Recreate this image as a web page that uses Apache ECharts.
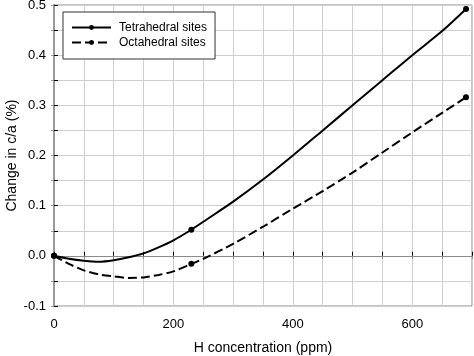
<!DOCTYPE html>
<html>
<head>
<meta charset="utf-8">
<script src="https://cdn.jsdelivr.net/npm/echarts@6/dist/echarts.min.js"></script>
<style>html,body{margin:0;padding:0;background:#fff;}#c{width:474px;height:356px;}</style>
</head>
<body>
<div id="c"></div>
<script>
var hConc = [0, 25, 50, 75, 100, 125, 150, 175, 200, 230, 250, 300, 350, 400, 450, 500, 550, 600, 650, 690];
var tetrahedral = [0, -0.006, -0.010, -0.012, -0.009, -0.003, 0.005, 0.017, 0.031, 0.052, 0.068, 0.108, 0.152, 0.200, 0.250, 0.300, 0.350, 0.400, 0.448, 0.492];
var octahedral = [0, -0.016, -0.029, -0.037, -0.041, -0.044, -0.043, -0.038, -0.031, -0.016, -0.006, 0.024, 0.058, 0.094, 0.129, 0.166, 0.206, 0.246, 0.285, 0.316];
var markerConc = [0, 230, 690];
var xTickLabels = ['0', '200', '400', '600'];
var yTickLabels = ['-0.1', '0.0', '0.1', '0.2', '0.3', '0.4', '0.5'];
var seriesNames = ['Tetrahedral sites', 'Octahedral sites'];

function pairs(ys) { return hConc.map(function (x, i) { return [x, ys[i]]; }); }
function symSize(v) { return markerConc.indexOf(v[0]) >= 0 ? 6 : 0; }

var FONT = 'Liberation Sans, Arial, sans-serif';
var chart = echarts.init(document.getElementById('c'), null, { renderer: 'canvas' });
chart.setOption({
  animation: false,
  backgroundColor: '#fff',
  grid: { left: 54, right: 2, top: 5, bottom: 50, containLabel: false, outerBoundsMode: 'none',
    show: true, borderColor: '#8a8a8a', borderWidth: 1 },
  legend: {
    left: 63, top: 12, orient: 'vertical',
    padding: [9, 8, 10, 8], itemWidth: 39, itemHeight: 6, itemGap: 2,
    borderColor: '#333', borderWidth: 1, backgroundColor: '#fff',
    textStyle: { fontFamily: FONT, fontSize: 12, color: '#000', padding: [0, 0, 0, 3], lineHeight: 13 },
    data: seriesNames
  },
  xAxis: [{
    type: 'value', min: 0, max: 700, interval: 50,
    name: 'H concentration (ppm)', nameLocation: 'middle', nameGap: 35,
    nameTextStyle: { fontFamily: FONT, fontSize: 14, color: '#000' },
    axisLine: { lineStyle: { color: '#000', width: 1 } },
    axisTick: { inside: true, length: 4, lineStyle: { color: '#000' } },
    axisLabel: { fontFamily: FONT, fontSize: 13, color: '#000', margin: 12,
      formatter: function (v) { var s = String(v); return xTickLabels.indexOf(s) >= 0 ? s : ''; } },
    splitLine: { show: true, lineStyle: { color: '#cfcfcf', width: 1 } }
  }, {
    type: 'value', position: 'top', min: 0, max: 700, interval: 50,
    axisLine: { show: true, lineStyle: { color: '#8a8a8a', width: 1 } },
    axisTick: { inside: true, length: 3, lineStyle: { color: '#8a8a8a' } },
    axisLabel: { show: false }, splitLine: { show: false }
  }],
  yAxis: [{
    type: 'value', min: -0.1, max: 0.5, interval: 0.05,
    name: 'Change in c/a (%)', nameLocation: 'middle', nameGap: 35, nameMoveOverlap: false,
    nameTextStyle: { fontFamily: FONT, fontSize: 14, color: '#000' },
    axisLine: { show: true, lineStyle: { color: '#000', width: 1 } },
    axisTick: { show: true, inside: true, length: 4, lineStyle: { color: '#000' } },
    axisLabel: { fontFamily: FONT, fontSize: 13, color: '#000', margin: 8,
      formatter: function (v) { var s = (Math.round(v * 100) / 100).toFixed(1); return (Math.abs(v * 10 - Math.round(v * 10)) < 1e-6 && yTickLabels.indexOf(s) >= 0) ? s : ''; } },
    splitLine: { show: true, lineStyle: { color: '#cfcfcf', width: 1 } }
  }, {
    type: 'value', position: 'right', min: -0.1, max: 0.5, interval: 0.05,
    axisLine: { show: true, lineStyle: { color: '#9a9a9a', width: 2 } },
    axisTick: { show: true, inside: true, length: 3, lineStyle: { color: '#9a9a9a' } },
    axisLabel: { show: false }, splitLine: { show: false }
  }],
  series: [{
    name: seriesNames[0], type: 'line', data: pairs(tetrahedral),
    smooth: 0.3, symbol: 'circle', symbolSize: symSize,
    itemStyle: { color: '#000' }, lineStyle: { color: '#000', width: 2 }
  }, {
    name: seriesNames[1], type: 'line', data: pairs(octahedral),
    smooth: 0.3, symbol: 'circle', symbolSize: symSize,
    itemStyle: { color: '#000' }, lineStyle: { color: '#000', width: 2, type: [9, 4] }
  }]
});
</script>
</body>
</html>
